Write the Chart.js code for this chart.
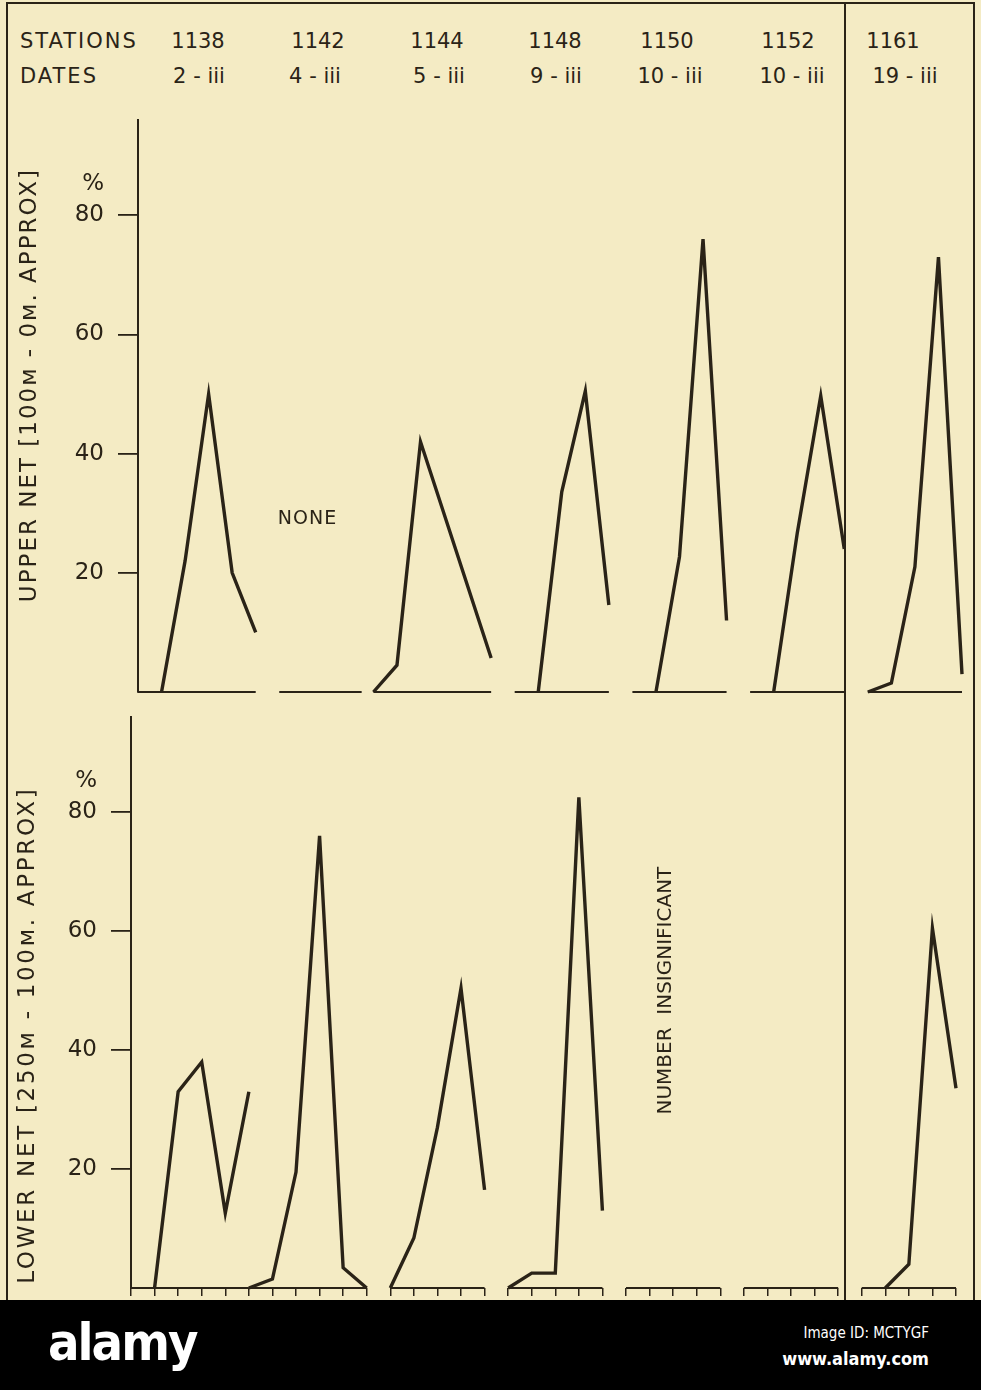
<!DOCTYPE html>
<html>
<head>
<meta charset="utf-8">
<title>Upper and lower net, stations 1138 - 1161</title>
<script src="https://cdn.jsdelivr.net/npm/chart.js@4.4.0/dist/chart.umd.min.js"></script>
<style>
  body { margin: 0; width: 981px; height: 1390px; background: #f4ebc4; position: relative; overflow: hidden;
         font-family: "DejaVu Sans", sans-serif; color: #2a2317; }
  .rule { position: absolute; background: #2a2317; }
  .hd { position: absolute; font-size: 21px; transform: translate(-50%, -50%); white-space: nowrap; }
  .hd.left { transform: translate(0, -50%); letter-spacing: 2px; }
  canvas { position: absolute; left: 0; }
  #footer { position: absolute; left: 0; top: 1300px; width: 981px; height: 90px; background: #000; color: #fff; }
  #logo { position: absolute; left: 48px; top: 12px; font: bold 52px "DejaVu Sans Condensed", "DejaVu Sans", sans-serif; letter-spacing: -2px; }
  #imgid { position: absolute; right: 52px; top: 24px; font: 15px "DejaVu Sans Condensed", sans-serif; }
  #site { position: absolute; right: 52px; top: 48px; font: bold 18px "DejaVu Sans Condensed", sans-serif; }
</style>
</head>
<body>
<div id="header"></div>
<canvas id="upper" width="981" height="600" style="top:100px"></canvas>
<canvas id="lower" width="981" height="600" style="top:700px"></canvas>
<div class="rule" style="left:6px;top:2px;width:2px;height:1298px"></div>
<div class="rule" style="left:6px;top:2px;width:969px;height:2px"></div>
<div class="rule" style="left:973px;top:2px;width:2px;height:1298px"></div>
<div class="rule" style="left:844px;top:2px;width:2px;height:1298px"></div>
<div id="footer">
  <div id="logo">alamy</div>
  <div id="imgid">Image ID: MCTYGF</div>
  <div id="site">www.alamy.com</div>
</div>
<script>
const ink = '#2a2317';
const font = '"DejaVu Sans", sans-serif';

const stations = ['1138', '1142', '1144', '1148', '1150', '1152', '1161'];
const dates = ['2 - iii', '4 - iii', '5 - iii', '9 - iii', '10 - iii', '10 - iii', '19 - iii'];
const yTicks = [20, 40, 60, 80];

// upper net: size-class index along the strip and % in each class, per station
const upperClasses = [[1, 2, 3, 4, 5], [], [10, 11, 12, 15], [17, 18, 19, 20], [22, 23, 24, 25], [27, 28, 29, 30], [31, 32, 33, 34, 35]];
const upperPercent = [[0, 22, 50, 20, 10], [], [0, 4.5, 42, 5.7], [0, 33.6, 50.5, 14.6], [0, 22.7, 76, 12], [0, 26.6, 49.7, 24], [0, 1.5, 21, 73, 3]];
const upperBase = [[0, 5], [6, 9.5], [10, 15], [16, 20], [21, 25], [26, 30], [31, 35]];

// lower net
const lowerClasses = [[1, 2, 3, 4, 5], [5, 6, 7, 8, 9, 10], [11, 12, 13, 14, 15], [16, 17, 18, 19, 20], [], [], [32, 33, 34, 35]];
const lowerPercent = [[0, 33, 38, 12.6, 33], [0, 1.5, 19.5, 76, 3.4, 0], [0, 8.4, 27, 50.4, 16.5], [0, 2.5, 2.5, 82.5, 13], [], [], [0, 4, 60.5, 33.6]];
const lowerBase = [[0, 5], [5, 10], [11, 15], [16, 20], [21, 25], [26, 30], [31, 35]];

// header rows (centres in px)
const stationX = [198, 318, 437, 555, 667, 788, 893];
const dateX = [199, 315, 439, 556, 670, 792, 905];

const header = document.getElementById('header');
function addText(txt, x, y, cls) {
    const d = document.createElement('div');
    d.className = 'hd' + (cls ? ' ' + cls : '');
    d.style.left = x + 'px';
    d.style.top = y + 'px';
    d.textContent = txt;
    header.appendChild(d);
}
addText('STATIONS', 20, 41, 'left');
addText('DATES', 20, 76, 'left');
stations.forEach((s, i) => addText(s, stationX[i], 41));
dates.forEach((s, i) => addText(s, dateX[i], 76));

Chart.defaults.font.family = font;
Chart.defaults.color = ink;

// free text on a panel, placed in data units (or px for x)
const notesPlugin = {
    id: 'notes',
    afterDraw(chart, args, opts) {
        const { ctx, scales: { x, y } } = chart;
        (opts.items || []).forEach(n => {
            const px = n.px !== undefined ? n.px : x.getPixelForValue(n.x);
            const py = y.getPixelForValue(n.y);
            ctx.save();
            ctx.translate(px, py);
            if (n.rotate) ctx.rotate(n.rotate);
            ctx.fillStyle = ink;
            ctx.font = n.size + 'px ' + font;
            ctx.letterSpacing = (n.spacing || 0) + 'px';
            ctx.textAlign = n.align || 'center';
            ctx.textBaseline = 'middle';
            ctx.fillText(n.text, 0, 0);
            ctx.restore();
        });
    }
};

function panelDatasets(classes, percent, base) {
    const sets = [];
    base.forEach(([a, b]) => sets.push({ data: [{ x: a, y: 0 }, { x: b, y: 0 }], borderWidth: 1.8 }));
    classes.forEach((cls, i) => {
        if (!cls.length) return;
        sets.push({ data: cls.map((c, k) => ({ x: c, y: percent[i][k] })), borderWidth: 3.4 });
    });
    return sets.map(s => Object.assign({
        borderColor: ink, pointRadius: 0, tension: 0, clip: false, fill: false, borderJoinStyle: 'miter'
    }, s));
}

function makePanel(id, cfg) {
    const tickLen = 20, pad = 14;
    const notes = [{ text: '%', px: cfg.axisW - tickLen - pad, y: 85.2, align: 'right', size: 23 }].concat(cfg.notes);
    const classTicks = [];
    cfg.base.forEach(([a, b]) => { for (let v = Math.ceil(a); v <= b; v++) if (!classTicks.includes(v)) classTicks.push(v); });

    new Chart(document.getElementById(id), {
        type: 'line',
        data: { datasets: panelDatasets(cfg.classes, cfg.percent, cfg.base) },
        options: {
            responsive: false,
            animation: false,
            events: [],
            layout: { padding: cfg.padding },
            plugins: { legend: { display: false }, tooltip: { enabled: false }, notes: { items: notes } },
            scales: {
                x: {
                    type: 'linear', min: 0, max: 35,
                    display: cfg.classTicks,
                    afterBuildTicks: s => { s.ticks = classTicks.map(v => ({ value: v })); },
                    afterFit: s => { s.height = cfg.classTicks ? 12 : 0; s.paddingLeft = 0; s.paddingRight = 0; },
                    border: { display: false },
                    grid: { drawOnChartArea: false, tickLength: 8, color: ink, lineWidth: 1.5 },
                    ticks: { autoSkip: false, callback: () => '' }
                },
                y: {
                    min: 0, max: 96,
                    afterBuildTicks: s => { s.ticks = yTicks.map(v => ({ value: v })); },
                    afterFit: s => { s.width = cfg.axisW; s.paddingTop = 0; s.paddingBottom = 0; },
                    border: { color: ink, width: 2 },
                    grid: { drawOnChartArea: false, tickLength: tickLen, color: ink, lineWidth: 1.8 },
                    ticks: { color: ink, padding: pad, font: { size: 23 } }
                }
            }
        },
        plugins: [notesPlugin]
    });
}

makePanel('upper', {
    classes: upperClasses, percent: upperPercent, base: upperBase,
    axisW: 138, classTicks: false,
    padding: { top: 20, right: 19, bottom: 8, left: 0 },
    notes: [
        { text: 'NONE', x: 7.2, y: 29, size: 19, spacing: 1 },
        { text: 'UPPER NET [100ᴍ - 0ᴍ. APPROX]', px: 30, y: 51.5, rotate: -Math.PI / 2, size: 23, spacing: 2 }
    ]
});

makePanel('lower', {
    classes: lowerClasses, percent: lowerPercent, base: lowerBase,
    axisW: 131, classTicks: true,
    padding: { top: 17, right: 25, bottom: 0, left: 0 },
    notes: [
        { text: 'NUMBER  INSIGNIFICANT', x: 22.7, y: 50, rotate: -Math.PI / 2, size: 20 },
        { text: 'LOWER NET [250ᴍ - 100ᴍ. APPROX]', px: 28, y: 42.5, rotate: -Math.PI / 2, size: 23, spacing: 2.7 }
    ]
});
</script>
</body>
</html>
